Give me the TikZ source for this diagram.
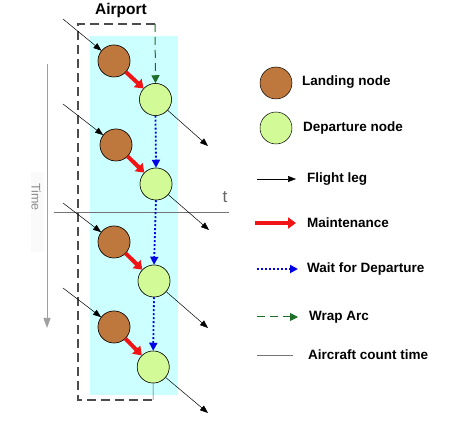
\documentclass[tikz,border=0pt]{standalone}
\usepackage{fontspec}
\setmainfont{Liberation Sans}
\usetikzlibrary{arrows.meta}
\definecolor{landc}{RGB}{190,120,62}
\definecolor{depc}{RGB}{210,250,150}
\definecolor{cyanbg}{RGB}{204,255,255}
\definecolor{wrapc}{RGB}{30,110,40}
\definecolor{waitc}{RGB}{0,0,230}
\definecolor{maintc}{RGB}{240,20,20}
\definecolor{axisc}{RGB}{160,160,160}
\tikzset{
  landnode/.style={circle,draw=black,line width=0.5pt,fill=landc,minimum size=32pt,inner sep=0pt},
  depnode/.style={circle,draw=black,line width=0.5pt,fill=depc,minimum size=32pt,inner sep=0pt},
  legleg/.style={draw=black,line width=0.5pt,-{Triangle[length=8pt,width=6pt]}},
  maintarr/.style={draw=maintc,line width=4pt,-{Triangle[length=8pt,width=11pt]}},
  waitarr/.style={draw=waitc,line width=1.8pt,dash pattern=on 1.8pt off 2.2pt,-{Triangle[length=8pt,width=8pt]}},
  wraparr/.style={draw=wrapc,line width=1pt,dash pattern=on 8pt off 5pt,-{Triangle[length=8pt,width=8pt]}},
  boxline/.style={draw=black!70,line width=1.2pt,dash pattern=on 9pt off 5pt},
  legtext/.style={anchor=west,font=\bfseries\fontsize{13.5}{15}\selectfont,inner sep=0pt}
}
\begin{document}
\begin{tikzpicture}[x=1pt,y=-1pt]
\useasboundingbox (0,0) rectangle (474,443);
% background airport region
\fill[cyanbg] (90,36) rectangle (178,395);
% Time label background
\fill[black!2] (31,172) rectangle (44,252);
% coordinates
\coordinate (boxtl) at (78,24);
\coordinate (boxtr) at (155,24);
\coordinate (boxbl) at (78,400);
\coordinate (boxbr) at (153,400);
% nodes
\node[landnode] (L1) at (114,61) {};
\node[landnode] (L2) at (116,145) {};
\node[landnode] (L3) at (114,242) {};
\node[landnode] (L4) at (114,327) {};
\node[depnode] (D1) at (155.5,99.5) {};
\node[depnode] (D2) at (156,184) {};
\node[depnode] (D3) at (154,281) {};
\node[depnode] (D4) at (153.2,367) {};
% airport dashed box
\draw[boxline] (boxtr) -- (boxtl) -- (boxbl) -- (boxbr);
\draw[black!70,line width=0.5pt] (boxbr) -- (D4.south);
% wrap arc
\draw[wraparr] (boxtr) -- (D1.north);
% time axis
\coordinate (tstart) at (47,64);
\coordinate (tend) at (47,328);
\draw[axisc,line width=1pt,-{Triangle[length=10pt,width=7pt]}] (tstart) -- (tend);
\node[rotate=-90,text=black!45,font=\fontsize{12.5}{14}\selectfont] (timelbl) at (36,197) {Time};
% aircraft count time line
\coordinate (cl) at (54,212);
\coordinate (cr) at (229,212);
\draw[black!55,line width=0.8pt] (cl) -- (cr);
\node[text=black!60,font=\fontsize{17}{18}\selectfont] (tlbl) at (225,197) {t};
% incoming flight legs
\coordinate (i1) at (63,19);
\coordinate (i2) at (63,104);
\coordinate (i3) at (63,203);
\coordinate (i4) at (63,288);
\draw[legleg] (i1) -- (L1);
\draw[legleg] (i2) -- (L2);
\draw[legleg] (i3) -- (L3);
\draw[legleg] (i4) -- (L4);
% outgoing flight legs
\coordinate (o1) at (208,146);
\coordinate (o2) at (209,230);
\coordinate (o3) at (208,328);
\coordinate (o4) at (208,413);
\draw[legleg] (D1) -- (o1);
\draw[legleg] (D2) -- (o2);
\draw[legleg] (D3) -- (o3);
\draw[legleg] (D4) -- (o4);
% redraw nodes on top
\node[landnode] at (L1) {};
\node[landnode] at (L2) {};
\node[landnode] at (L3) {};
\node[landnode] at (L4) {};
\node[depnode] at (D1) {};
\node[depnode] at (D2) {};
\node[depnode] at (D3) {};
\node[depnode] at (D4) {};
% maintenance
\draw[maintarr] (L1) -- (D1);
\draw[maintarr] (L2) -- (D2);
\draw[maintarr] (L3) -- (D3);
\draw[maintarr] (L4) -- (D4);
% wait
\draw[waitarr] (D1.south) -- (D2.north);
\draw[waitarr] (D2.south) -- (D3.north);
\draw[waitarr] (D3.south) -- (D4.north);
% title
\node[font=\bfseries\fontsize{15.5}{17}\selectfont] (title) at (121,10) {Airport};
% legend
\node[landnode] (kl) at (276,83) {};
\node[legtext] (klt) at (302,82) {Landing node};
\node[depnode] (kd) at (276,128) {};
\node[legtext] (kdt) at (303,128) {Departure node};
\coordinate (f1) at (257,179); \coordinate (f2) at (296,179);
\draw[legleg] (f1) -- (f2);
\node[legtext] (kft) at (307,179) {Flight leg};
\coordinate (m1) at (255,223); \coordinate (m2) at (296,223);
\draw[maintarr] (m1) -- (m2);
\node[legtext] (kmt) at (307,223) {Maintenance};
\coordinate (w1) at (257,269); \coordinate (w2) at (298,269);
\draw[waitarr] (w1) -- (w2);
\node[legtext] (kwt) at (307,269) {Wait for Departure};
\coordinate (a1) at (257,317); \coordinate (a2) at (298,317);
\draw[wraparr] (a1) -- (a2);
\node[legtext] (kat) at (309,317) {Wrap Arc};
\coordinate (c1) at (257,355); \coordinate (c2) at (293,355);
\draw[black!55,line width=0.6pt] (c1) -- (c2);
\node[legtext] (kct) at (308,355) {Aircraft count time};
\end{tikzpicture}
\end{document}
